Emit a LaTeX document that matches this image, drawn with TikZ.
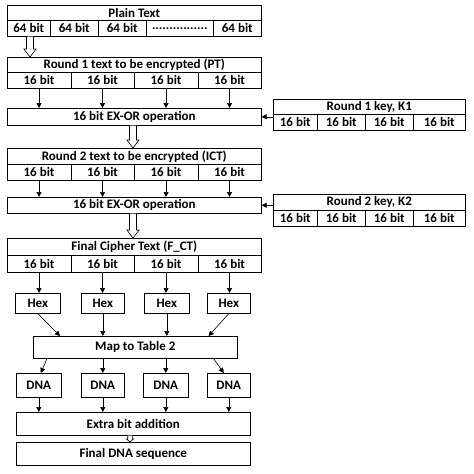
\documentclass[tikz,border=0pt]{standalone}
\usepackage{fontspec}
\setmainfont{Carlito}
\usetikzlibrary{calc,arrows.meta}
\newcommand\bx[6]{\node[box, minimum width=#4pt, minimum height=#5pt] (#1) at (#2,#3) {#6};}
% hollow block arrow: #1 x (px), #2 from node, #3 to node, #4 shaft half, #5 head half, #6 head length
\newcommand\hollowarrow[6]{%
  \draw[harrow] let \p1=(#2.south), \p2=(#3.north) in
    (#1pt-#4pt,\y1) -- (#1pt-#4pt,\y2+#6pt) -- (#1pt-#5pt,\y2+#6pt) -- (#1pt,\y2)
    -- (#1pt+#5pt,\y2+#6pt) -- (#1pt+#4pt,\y2+#6pt) -- (#1pt+#4pt,\y1);}
\begin{document}
\begin{tikzpicture}[x=1pt,y=-1pt,
  box/.style={draw, anchor=north west, inner sep=0pt, font=\bfseries\fontsize{13}{14}\selectfont, line width=0.6pt},
  arr/.style={-{Triangle[length=5pt,width=5pt]}, line width=0.6pt},
  harrow/.style={draw, fill=white, line width=0.6pt}]
\useasboundingbox (0,0) rectangle (474,474);
% Plain text
\bx{pt}{7}{5}{254}{15}{Plain Text}
\bx{pa}{7}{20}{43}{16}{64 bit}
\bx{pb}{50}{20}{48}{16}{64 bit}
\bx{pc}{98}{20}{48}{16}{64 bit}
\bx{pd}{146}{20}{67}{16}{\raisebox{0pt}{................}}
\bx{pe}{213}{20}{48}{16}{64 bit}
% Round 1
\bx{ra}{7}{57}{254}{15}{Round 1 text to be encrypted (PT)}
\bx{r1a}{7}{72}{63.5}{16}{16 bit}
\bx{r1b}{70.5}{72}{63.5}{16}{16 bit}
\bx{r1c}{134}{72}{63.5}{16}{16 bit}
\bx{r1d}{197.5}{72}{63.5}{16}{16 bit}
\bx{x1}{7}{108}{254}{17}{16 bit EX-OR operation}
% Key 1
\bx{k1}{273}{99}{192}{15}{Round 1 key, K1}
\bx{k1a}{273}{114}{44}{16}{16 bit}
\bx{k1b}{317}{114}{48}{16}{16 bit}
\bx{k1c}{365}{114}{48}{16}{16 bit}
\bx{k1d}{413}{114}{52}{16}{16 bit}
% Round 2
\bx{rb}{7}{148}{254}{16}{Round 2 text to be encrypted (ICT)}
\bx{r2a}{7}{164}{63.5}{16}{16 bit}
\bx{r2b}{70.5}{164}{63.5}{16}{16 bit}
\bx{r2c}{134}{164}{63.5}{16}{16 bit}
\bx{r2d}{197.5}{164}{63.5}{16}{16 bit}
\bx{x2}{7}{197}{254}{16}{16 bit EX-OR operation}
% Key 2
\bx{k2}{273}{194}{192}{16}{Round 2 key, K2}
\bx{k2a}{273}{210}{44}{16}{16 bit}
\bx{k2b}{317}{210}{48}{16}{16 bit}
\bx{k2c}{365}{210}{48}{16}{16 bit}
\bx{k2d}{413}{210}{52}{16}{16 bit}
% Final cipher
\bx{fc}{7}{238}{254}{17}{Final Cipher Text (F\_CT)}
\bx{fa}{7}{255}{63.5}{17}{16 bit}
\bx{fb}{70.5}{255}{63.5}{17}{16 bit}
\bx{fcc}{134}{255}{63.5}{17}{16 bit}
\bx{fd}{197.5}{255}{63.5}{17}{16 bit}
% Hex
\bx{h1}{15}{293}{45}{20}{Hex}
\bx{h2}{81}{293}{43}{20}{Hex}
\bx{h3}{144}{293}{45}{20}{Hex}
\bx{h4}{207}{293}{43}{20}{Hex}
\bx{map}{33}{336}{204}{22}{Map to Table 2}
% DNA
\bx{d1}{16}{373}{45}{24}{DNA}
\bx{d2}{81}{373}{43}{24}{DNA}
\bx{d3}{143}{373}{45}{24}{DNA}
\bx{d4}{207}{373}{43}{24}{DNA}
\bx{ex}{16}{412}{234}{23}{Extra bit addition}
\bx{fin}{16}{442}{234}{23}{Final DNA sequence}
% hollow arrows
\hollowarrow{30}{pa}{ra}{3.5}{6}{8}
\hollowarrow{133}{x1}{rb}{3.5}{6}{8}
\hollowarrow{133}{x2}{fc}{3.5}{6}{8}
\hollowarrow{130}{ex}{fin}{2.3}{3.5}{3}
% round 1 arrows
\foreach \n in {r1a,r1b,r1c,r1d}{\draw[arr] (\n.south) -- (\n.south |- x1.north);}
\draw[arr] (k1.south west |- x1.east) -- (x1.east);
\foreach \n in {r2a,r2b,r2c,r2d}{\draw[arr] (\n.south) -- (\n.south |- x2.north);}
\draw[arr] (k2.south west |- x2.east) -- (x2.east);
% cipher to hex
\draw[arr] (fa.south) -- (fa.south |- h1.north);
\draw[arr] (fb.south) -- (fb.south |- h2.north);
\draw[arr] (fcc.south) -- (fcc.south |- h3.north);
\draw[arr] (fd.south) -- (fd.south |- h4.north);
% hex to map
\draw[arr] (h1.south) -- ($(map.north west)+(27,0)$);
\draw[arr] (h2.south) -- (h2.south |- map.north);
\draw[arr] (h3.south) -- (h3.south |- map.north);
\draw[arr] (h4.south) -- ($(map.north east)+(-29,0)$);
% map to dna
\draw[arr] ($(map.south west)+(14,0)$) -- ($(d1.north)+(2,0)$);
\draw[arr] (d2.north |- map.south) -- (d2.north);
\draw[arr] (d3.north |- map.south) -- (d3.north);
\draw[arr] ($(map.south east)+(-24,0)$) -- ($(d4.north)+(-5,0)$);
% dna to extra
\foreach \n in {d1,d2,d3,d4}{\draw[arr] (\n.south) -- (\n.south |- ex.north);}
\end{tikzpicture}
\end{document}
